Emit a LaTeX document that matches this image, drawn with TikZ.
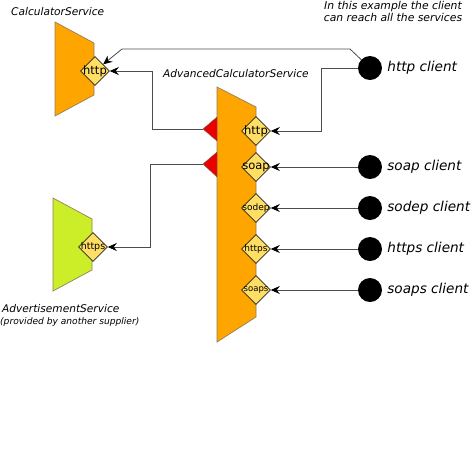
\documentclass[tikz,border=0pt]{standalone}
\usepackage{fontspec}
\setmainfont{DejaVu Sans}
\newfontfamily\portfont{DejaVu Sans}
\usetikzlibrary{arrows.meta,shapes.geometric,positioning}
\definecolor{svcorange}{RGB}{255,165,0}
\definecolor{svclime}{RGB}{204,238,40}
\definecolor{svcedge}{RGB}{150,125,90}
\definecolor{portyellow}{RGB}{255,222,100}
\definecolor{redport}{RGB}{235,0,0}

\begin{document}
\begin{tikzpicture}[x=1pt,y=-1pt]
\tikzstyle{service} = [draw=svcedge, line width=0.7pt]
\tikzstyle{port} = [diamond, draw=black!85, fill=portyellow, aspect=1, inner sep=0pt,
  minimum size=29pt, line width=0.6pt, font=\portfont\fontsize{11.5}{10}\selectfont]
\tikzstyle{client} = [circle, fill=black, minimum size=24pt, inner sep=0pt]
\tikzstyle{clabel} = [font=\itshape\fontsize{13.6}{14}\selectfont, inner sep=1pt]
\tikzstyle{title} = [font=\itshape\fontsize{10.6}{10}\selectfont, inner sep=0pt]
\tikzstyle{line} = [-{Stealth[black,length=9pt,width=8pt,inset=3pt]}, draw=black!70, line width=0.8pt]
\useasboundingbox (0,0) rectangle (474,475);

    \path [service, fill=svcorange] (55,22) -- (94,43) -- (94,95) -- (55,116) -- cycle;
    \path [service, fill=svcorange] (217,87) -- (256,107) -- (256,317) -- (217,342) -- cycle;
    \path [service, fill=svclime] (53,198) -- (92,219) -- (92,270) -- (53,291) -- cycle;
    \path [draw=black!60, fill=redport] (217,117) -- (203,129) -- (217,141) -- cycle;
    \path [draw=black!60, fill=redport] (217,152) -- (203,164) -- (217,177) -- cycle;
    \coordinate (ref1) at (203,129);
    \coordinate (ref2) at (203,164);

    \node [title, anchor=west] (cs-title) at (11,12) {CalculatorService};
    \node [title, anchor=west] (ac-title) at (163,74) {AdvancedCalculatorService};
    \node [title, anchor=west] (ad-title) at (2,309) {AdvertisementService};
    \node [anchor=west, inner sep=0pt, font=\itshape\fontsize{9.1}{9}\selectfont] (ad-note)
      at (0,322) {(provided by another supplier)};
    \node [align=center, inner sep=0pt, font=\itshape\fontsize{10.8}{12}\selectfont] (note)
      at (393,11) {In this example the client\\can reach all the services};

    \node [port] (cs-http) at (95,71) {\makebox[0pt]{http}};
    \node [port] (ad-https) at (93,247) {\makebox[0pt]{\fontsize{9.5}{9}\selectfont https}};
    \node [port] (ac-http) at (256,131) {\makebox[0pt]{http}};
    \node [port] (ac-soap) at (256,167) {\makebox[0pt]{soap}};
    \node [port] (ac-sodep) at (256,208) {\makebox[0pt]{\fontsize{9}{9}\selectfont sodep}};
    \node [port] (ac-https) at (256,249) {\makebox[0pt]{\fontsize{9}{9}\selectfont https}};
    \node [port] (ac-soaps) at (256,290) {\makebox[0pt]{\fontsize{8.5}{9}\selectfont soaps}};

    \node [client] (http-cl) at (370,68) {};
    \node [client] (soap-cl) at (370,167) {};
    \node [client] (sodep-cl) at (370,208) {};
    \node [client] (https-cl) at (370,249) {};
    \node [client] (soaps-cl) at (370,290) {};
    \node [clabel, right=4pt of http-cl] {http client};
    \node [clabel, right=4pt of soap-cl] {soap client};
    \node [clabel, right=4pt of sodep-cl] {sodep client};
    \node [clabel, right=4pt of https-cl] {https client};
    \node [clabel, right=4pt of soaps-cl] {soaps client};

    \path [line] (http-cl) -- (350,49) -- (122,49) -- (cs-http);
    \path [line] (http-cl.west) -- (321,68) |- (ac-http);
    \path [line] (soap-cl) -- (ac-soap);
    \path [line] (sodep-cl) -- (ac-sodep);
    \path [line] (https-cl) -- (ac-https);
    \path [line] (soaps-cl) -- (ac-soaps);
    \path [line] (ref1) -- (152,129) |- (cs-http);
    \path [line] (ref2) -- (150,164) |- (ad-https);
\end{tikzpicture}
\end{document}
